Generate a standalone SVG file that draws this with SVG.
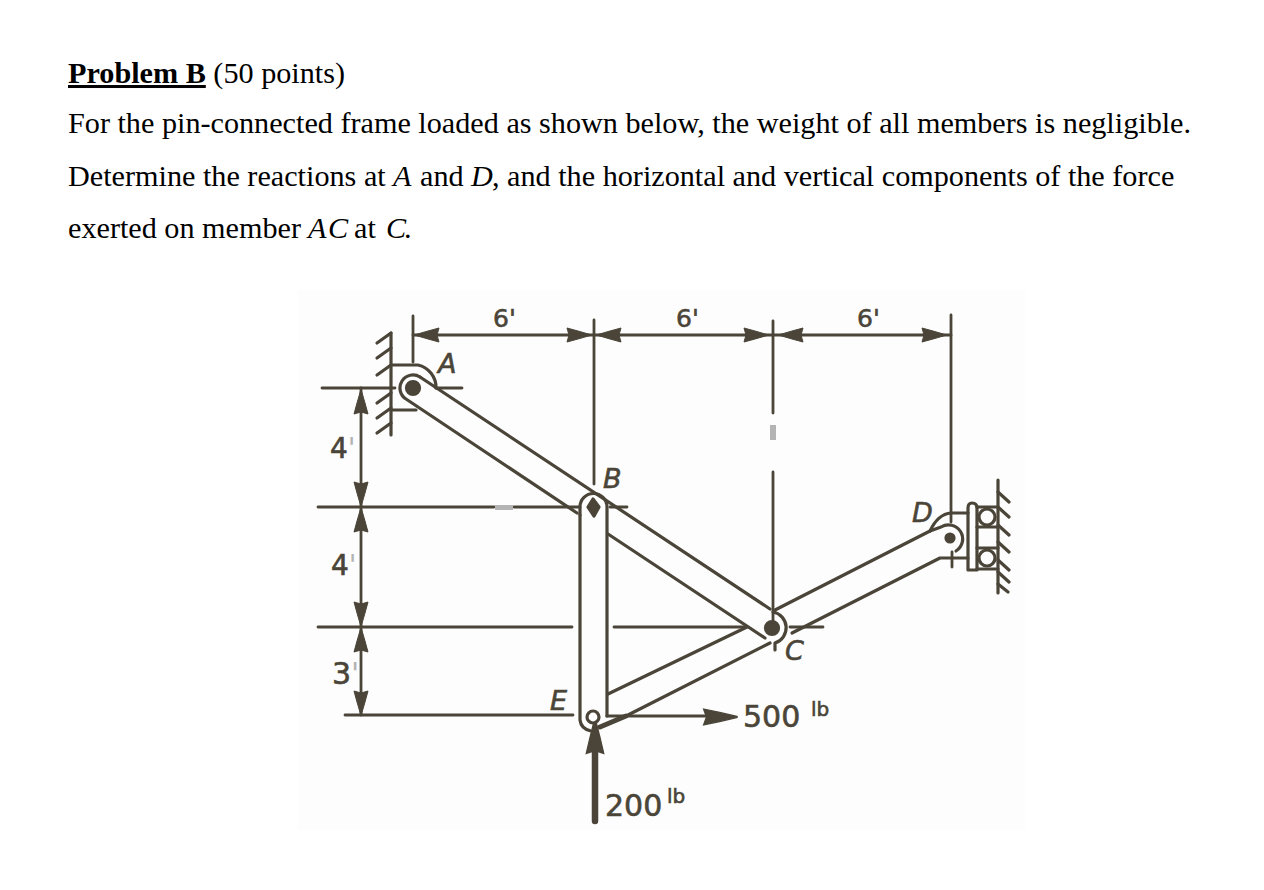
<svg xmlns="http://www.w3.org/2000/svg" width="1264" height="890" viewBox="0 0 1264 890">
<style>
.t{font-family:"Liberation Serif","Times New Roman",serif;font-size:30.200px;fill:#000}
.m{font-style:italic}
.l,.lab{fill:#4a4538;stroke:#4a4538;stroke-width:.6;font-family:"DejaVu Sans",sans-serif}
.lab{font-style:italic;font-size:27px}
.s{fill:none;stroke:#4a4538;stroke-width:3.200;stroke-linecap:round;stroke-linejoin:round}
.th{stroke-width:2.800}
.ah{fill:#4a4538;stroke:#4a4538;stroke-width:1}
.g{fill:#b4b4b4}
</style>
<defs>
<path id="ah" class="ah" d="M0,-.5 L-12,-4 L-23,-7 L-21,0 L-23,7 L-12,4 L0,.5 Z"/>
</defs>
<rect width="1264" height="890" fill="#fff"/>
<rect x="298" y="290" width="727" height="540" fill="#fdfdfd"/>
<g id="problem-text">
<text class="t" x="68" y="83"><tspan font-weight="bold" text-decoration="underline">Problem B</tspan> (50 points)</text>
<text class="t" x="68" y="133">For the pin-connected frame loaded as shown below, the weight of all members is negligible.</text>
<text class="t" x="68" y="186">Determine the reactions at <tspan class="m" x="393">A</tspan><tspan x="420">and</tspan> <tspan class="m" x="471">D</tspan><tspan x="492">, and the horizontal and vertical components of the force</tspan></text>
<text class="t" x="68" y="238">exerted on member <tspan class="m" x="308" letter-spacing="1.500">AC</tspan><tspan x="354">at</tspan> <tspan class="m" x="386">C</tspan><tspan x="404">.</tspan></text>
</g>
<g id="connectors">
<g id="dimensions" class="s th">
<path d="M413,316V362M594,320V484M773,321V413M773,472V620M951,315V522M952,552V567"/>
<path d="M413,335H951"/>
<path d="M322,388H395M436,388H462"/>
<path d="M318,507H494M514,507H580M610,507H627"/>
<path d="M318,627H572M614,627H745M790,627H823"/>
<path d="M345,715H573"/>
<path d="M361,388V715"/>
</g>
<g id="scan-marks">
<rect class="g" x="495" y="505" width="18" height="5"/>
<rect class="g" x="770" y="425" width="6" height="15"/>
</g>
<g id="arrows">
<use href="#ah" transform="translate(416,335) rotate(180)"/>
<use href="#ah" transform="translate(590,335)"/>
<use href="#ah" transform="translate(598,335) rotate(180)"/>
<use href="#ah" transform="translate(767,335)"/>
<use href="#ah" transform="translate(780,335) rotate(180)"/>
<use href="#ah" transform="translate(945,335)"/>
<use href="#ah" transform="translate(361,391) rotate(-90)"/>
<use href="#ah" transform="translate(361,505) rotate(90)"/>
<use href="#ah" transform="translate(361,509) rotate(-90)"/>
<use href="#ah" transform="translate(361,625) rotate(90)"/>
<use href="#ah" transform="translate(361,629) rotate(-90)"/>
<use href="#ah" transform="translate(361,714) rotate(90)"/>
<path class="s" d="M607,716H715"/>
<use href="#ah" transform="translate(737,717) scale(1.450,1.150)"/>
<path class="s" style="stroke-width:6.500" d="M595,745V821"/>
<use href="#ah" transform="translate(595,720) rotate(-90) scale(1.450,1.250)"/>
</g>
<g id="members" class="s">
<path d="M420,377L770,609"/>
<path d="M420,377A13,13 0 0 0 406,399L577,513"/>
<path d="M608,534L765,638"/>
<path d="M580,515V720Q581,729 591,731"/>
<path d="M580,515V507A13.500,13.500 0 0 1 607,507V716"/>
<path d="M608,694L747,627"/>
<path d="M628,715L770,643"/>
<path d="M775,610L930,531"/>
<path d="M792,633L940,558H968"/>
<path style="stroke-width:5" d="M600,727L626,716"/>
</g>
</g>
<g id="support-A" class="s">
<path d="M391,333V435"/>
<path d="M377,343L391,333M377,358L391,348M377,375L391,365M377,403L391,393M377,418L391,408M377,433L391,423"/>
<path d="M391,365H418A23,23 0 0 1 436,388M391,410H416"/>
<circle cx="413" cy="388" r="6.500" fill="#4a4538"/>
</g>
<g id="pin-B" class="s">
<path d="M593,499L599,507L594,516L588,507Z" fill="#4a4538"/>
</g>
<g id="pin-C" class="s">
<path d="M773,612A16,16 0 0 1 775,643V650"/>
<circle cx="772" cy="628" r="6.500" fill="#4a4538"/>
</g>
<g id="pin-E" class="s">
<circle cx="593" cy="717" r="6" fill="#fff"/>
</g>
<g id="support-D" class="s">
<path d="M930,531Q938,514 951,513H968"/>
<path d="M930,531L941,527A14,14 0 1 1 956,551"/>
<circle cx="950" cy="538" r="4" fill="#4a4538"/>
<path d="M968,570V508Q968,503 972,503Q977,503 977,508V570Z"/>
<path d="M977,507H998M977,527H998M977,548H998M977,569H998"/>
<circle cx="987" cy="517" r="8"/>
<circle cx="987" cy="558" r="8"/>
<path d="M998,480V593"/>
<path d="M998,492L1009,502M998,507L1009,517M998,525L1009,535M998,542L1009,552M998,560L1009,570M998,572L1009,582M998,584L1008,592"/>
</g>
<g id="labels">
<text class="l" x="493" y="327" font-size="25">6'</text>
<text class="l" x="676" y="327" font-size="25">6'</text>
<text class="l" x="857" y="327" font-size="25">6'</text>
<text class="l" x="330" y="458" font-size="28">4<tspan fill="#b4b4b4" stroke="none">'</tspan></text>
<text class="l" x="331" y="575" font-size="28">4<tspan fill="#b4b4b4" stroke="none">'</tspan></text>
<text class="l" x="332" y="684" font-size="30">3<tspan fill="#b4b4b4" stroke="none">'</tspan></text>
<text class="lab" x="438" y="373">A</text>
<text class="lab" x="603" y="488">B</text>
<text class="lab" x="785" y="660">C</text>
<text class="lab" x="550" y="710">E</text>
<text class="lab" x="912" y="522">D</text>
<text class="l" x="743" y="727" font-size="30">500</text>
<text class="l" x="811" y="716" font-size="20">lb</text>
<text class="l" x="605" y="816" font-size="30">200</text>
<text class="l" x="667" y="803" font-size="20">lb</text>
</g>
</svg>
